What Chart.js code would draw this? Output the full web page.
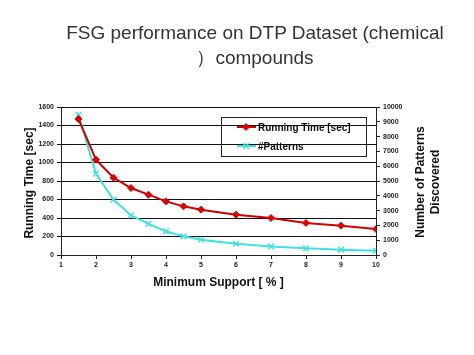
<!DOCTYPE html>
<html><head><meta charset="utf-8">
<script src="https://cdn.jsdelivr.net/npm/chart.js@4/dist/chart.umd.min.js"></script>
<style>
html,body{margin:0;padding:0;background:#fff;width:474px;height:355px;overflow:hidden;}
#wrap{position:relative;width:474px;height:355px;}
#title{position:absolute;left:0;top:20px;width:510px;text-align:center;font-family:"Liberation Sans",Arial,sans-serif;font-size:19px;line-height:25px;color:#333;}
canvas{position:absolute;left:0;top:0;}
</style></head>
<body><div id="wrap">
<canvas id="c" width="474" height="355"></canvas>
<div id="title">FSG performance on DTP Dataset (chemical<br>）compounds</div>
</div>
<script>
const support = [1.5, 2, 2.5, 3, 3.5, 4, 4.5, 5, 6, 7, 8, 9, 10];
const runningTime = [1470, 1030, 836, 724, 652, 580, 526, 490, 436, 400, 346, 317, 281];
const patterns = [9480, 5490, 3740, 2680, 2100, 1600, 1260, 1030, 760, 580, 450, 360, 290];
const seriesNames = ["Running Time [sec]", "#Patterns"];
const xTitle = "Minimum Support [ % ]";
const yTitle = "Running Time [sec]";
const y2Title = ["Number of Patterns", "Discovered"];

const RED = "#cc0000", CYAN = "#3fe0e0";
const tickFont = {family: "'Liberation Sans', Arial, sans-serif", size: 7, weight: "bold"};
const plain = v => String(v);

const overlay = {
  id: "overlay",
  afterDraw(chart) {
    const ctx = chart.ctx, a = chart.chartArea;
    ctx.save();
    ctx.fillStyle = "#111";
    ctx.font = "bold 12px 'Liberation Sans', Arial, sans-serif";
    ctx.textAlign = "center"; ctx.textBaseline = "middle";
    ctx.fillText(xTitle, (a.left + a.right) / 2, a.bottom + 28);
    ctx.save();
    ctx.translate(a.left - 31, (a.top + a.bottom) / 2 + 2);
    ctx.rotate(-Math.PI / 2);
    ctx.fillText(yTitle, 0, 0);
    ctx.restore();
    ctx.save();
    ctx.translate(a.right + 45, (a.top + a.bottom) / 2 + 1);
    ctx.rotate(-Math.PI / 2);
    ctx.fillText(y2Title[0], 0, 0);
    ctx.fillText(y2Title[1], 0, 15);
    ctx.restore();
    // legend box
    const lx = a.left + 160, ly = a.top + 10, lw = 145, lh = 39;
    ctx.strokeStyle = "#222"; ctx.lineWidth = 1;
    ctx.strokeRect(lx + 0.5, ly + 0.5, lw, lh);
    const rows = [ly + 10, ly + 29];
    chart.data.datasets.forEach((d, i) => {
      const y = rows[i];
      ctx.strokeStyle = d.borderColor; ctx.fillStyle = d.pointBackgroundColor; ctx.lineWidth = 2;
      ctx.beginPath(); ctx.moveTo(lx + 16, y); ctx.lineTo(lx + 35, y); ctx.stroke();
      ctx.strokeStyle = d.pointBorderColor; ctx.lineWidth = d.pointBorderWidth;
      Chart.helpers.drawPoint(ctx, {pointStyle: d.pointStyle, radius: d.pointRadius, borderWidth: d.pointBorderWidth, rotation: 0}, lx + 25, y);
      ctx.fillStyle = "#111";
      ctx.font = "bold 10px 'Liberation Sans', Arial, sans-serif";
      ctx.textAlign = "left";
      ctx.fillText(d.label, lx + 37, y + 1);
    });
    ctx.restore();
  }
};

new Chart(document.getElementById("c"), {
  type: "line",
  data: {
    datasets: [
      {label: seriesNames[0], data: support.map((x, i) => ({x, y: runningTime[i]})), yAxisID: "y",
       borderColor: RED, backgroundColor: "#dd0000", pointBorderColor: "#dd0000", pointBackgroundColor: "#dd0000",
       borderWidth: 2, pointStyle: "rectRot", pointRadius: 3.5, pointBorderWidth: 1, tension: 0},
      {label: seriesNames[1], data: support.map((x, i) => ({x, y: patterns[i]})), yAxisID: "y1",
       borderColor: CYAN, backgroundColor: CYAN, pointBorderColor: CYAN, pointBackgroundColor: CYAN,
       borderWidth: 2, pointStyle: "crossRot", pointRadius: 4, pointBorderWidth: 1.5, tension: 0}
    ]
  },
  options: {
    responsive: false, animation: false,
    layout: {padding: {top: 107, left: 0, right: 0, bottom: 0}},
    plugins: {legend: {display: false}, title: {display: false}, tooltip: {enabled: false}},
    scales: {
      x: {type: "linear", min: 1, max: 10,
          ticks: {stepSize: 1, font: tickFont, color: "#222", padding: 2, maxRotation: 0, callback: plain},
          grid: {drawOnChartArea: false, color: "#222", tickLength: 4},
          border: {color: "#222", width: 1},
          afterFit(s) { s.height = 100; }},
      y: {position: "left", min: 0, max: 1600,
          ticks: {stepSize: 200, font: tickFont, color: "#222", padding: 3, callback: plain},
          grid: {color: "#111", lineWidth: 1, tickLength: 4},
          border: {color: "#222", width: 1},
          afterFit(s) { s.width = 61; }},
      y1: {position: "right", min: 0, max: 10000,
          ticks: {stepSize: 1000, font: tickFont, color: "#222", padding: 3, callback: plain},
          grid: {drawOnChartArea: false, color: "#222", tickLength: 4},
          border: {color: "#222", width: 1},
          afterFit(s) { s.width = 98; }}
    }
  },
  plugins: [overlay]
});
</script>
</body></html>
